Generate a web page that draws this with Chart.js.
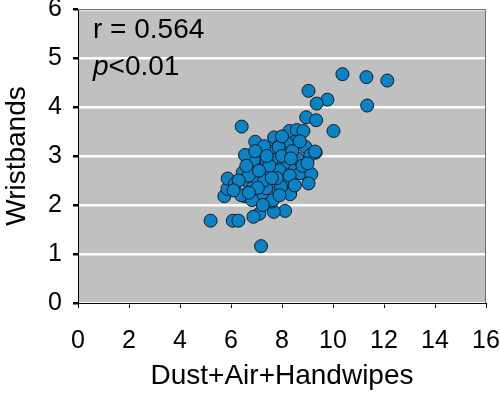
<!DOCTYPE html>
<html>
<head>
<meta charset="utf-8">
<script src="https://cdn.jsdelivr.net/npm/chart.js@4"></script>
<style>
  html, body { margin: 0; padding: 0; background: #fff; }
  #wrap { width: 500px; height: 393px; position: relative; }
</style>
</head>
<body>
<div id="wrap"><canvas id="chart" width="500" height="393"></canvas></div>
<script>
// Data
const xValues = [
  10.37, 11.31, 12.13, 11.34, 9.04, 9.78, 9.36, 8.95, 9.34, 10.02,
  8.29, 8.58, 8.84, 7.69, 6.95, 8.52, 8.19, 7.86, 8.91, 9.32,
  9.11, 7.54, 7.21, 8.12, 6.75, 7.14, 7.73, 8.45, 8.06, 6.95,
  7.47, 7.90, 8.71, 9.15, 9.04, 8.16, 7.67, 7.21, 8.32, 6.75,
  7.18, 8.12, 7.68, 7.11, 6.88, 7.60, 5.20, 6.07, 6.29, 5.74,
  5.86, 5.87, 6.15, 6.46, 6.55, 6.83, 6.88, 6.58, 6.89, 7.40,
  7.64, 7.38, 7.96, 6.42, 9.30, 7.87, 6.55, 7.00, 7.30, 6.70,
  7.80, 8.30, 8.00, 7.50, 6.60, 7.10, 8.60, 8.80, 6.30, 6.40,
  7.90, 8.50, 7.30, 8.40, 6.95, 7.60, 7.05, 8.70, 8.00, 7.40,
  6.70, 9.00, 7.25, 6.10, 8.35
];
const yValues = [
  4.67, 4.61, 4.54, 4.03, 4.33, 4.15, 4.07, 3.79, 3.73, 3.51,
  3.51, 3.53, 3.51, 3.38, 3.29, 3.29, 3.26, 3.19, 3.19, 3.07,
  3.02, 3.09, 3.09, 3.05, 2.93, 2.92, 2.92, 2.82, 2.84, 2.68,
  2.68, 2.71, 2.65, 2.63, 2.44, 2.46, 2.39, 2.20, 2.22, 2.41,
  1.16, 1.88, 1.86, 1.82, 1.76, 2.07, 1.68, 1.68, 1.68, 2.18,
  2.33, 2.54, 2.43, 2.66, 2.18, 2.10, 2.37, 3.00, 2.92, 2.88,
  2.10, 2.34, 2.37, 3.60, 3.09, 3.18, 3.02, 2.55, 2.50, 2.60,
  2.55, 2.60, 3.00, 2.80, 2.80, 2.70, 2.95, 2.80, 2.50, 2.20,
  2.20, 2.40, 3.20, 3.10, 3.10, 2.55, 2.35, 3.30, 3.40, 3.00,
  2.25, 2.85, 2.00, 2.30, 2.95
];
const xTicks = [0, 2, 4, 6, 8, 10, 12, 14, 16];
const yTicks = [0, 1, 2, 3, 4, 5, 6];
const xTitle = "Dust+Air+Handwipes";
const yTitle = "Wristbands";
const statR = "r = 0.564";
const statP = "<0.01";

const points = xValues.map((x, i) => ({ x: x, y: yValues[i] }));
const FONT = "'Liberation Sans', Arial, sans-serif";

// gray plot area, frame and the r / p note
const plotDecor = {
  id: "plotDecor",
  beforeDraw(chart) {
    const { ctx, chartArea: a } = chart;
    ctx.save();
    ctx.fillStyle = "#c0c0c0";
    ctx.fillRect(a.left, a.top, a.right - a.left, a.bottom - a.top);
    ctx.restore();
  },
  afterDraw(chart) {
    const { ctx, chartArea: a } = chart;
    ctx.save();
    ctx.strokeStyle = "#707070";
    ctx.lineWidth = 1;
    ctx.beginPath();
    ctx.moveTo(a.left, a.top + 0.5);
    ctx.lineTo(a.right - 0.5, a.top + 0.5);
    ctx.lineTo(a.right - 0.5, a.bottom);
    ctx.stroke();

    ctx.fillStyle = "#000";
    ctx.textBaseline = "alphabetic";
    ctx.textAlign = "left";
    ctx.font = "28px " + FONT;
    ctx.fillText(statR, a.left + 15, 38);
    ctx.font = "italic 28px " + FONT;
    ctx.fillText("p", a.left + 15, 75);
    const pw = ctx.measureText("p").width;
    ctx.font = "28px " + FONT;
    ctx.fillText(statP, a.left + 15 + pw, 75);
    ctx.restore();
  }
};

new Chart(document.getElementById("chart"), {
  type: "scatter",
  data: {
    datasets: [{
      data: points,
      backgroundColor: "#0a82c6",
      borderColor: "#1a1a1a",
      borderWidth: 1,
      pointRadius: 6.5,
      pointHoverRadius: 6.5
    }]
  },
  options: {
    responsive: false,
    animation: false,
    layout: { padding: { left: 0, right: 14, top: 9, bottom: 0 } },
    plugins: { legend: { display: false }, tooltip: { enabled: false } },
    scales: {
      x: {
        type: "linear",
        min: 0,
        max: 16,
        afterBuildTicks(axis) { axis.ticks = xTicks.map(v => ({ value: v })); },
        afterFit(axis) {
          axis.height = 90;
          axis.paddingLeft = 0;
          axis.paddingRight = 0;
        },
        grid: { drawOnChartArea: false, drawTicks: true, tickLength: 5, color: "#000", tickColor: "#000" },
        border: { color: "#000", width: 1 },
        ticks: { color: "#000", font: { family: FONT, size: 25 }, padding: 18, maxRotation: 0 },
        title: { display: true, text: xTitle, color: "#000", font: { family: FONT, size: 28 }, padding: { top: 4, bottom: 0 } }
      },
      y: {
        type: "linear",
        min: 0,
        max: 6,
        afterBuildTicks(axis) { axis.ticks = yTicks.map(v => ({ value: v })); },
        afterFit(axis) {
          axis.width = 78;
          axis.paddingTop = 0;
          axis.paddingBottom = 0;
        },
        grid: { color: "#fff", lineWidth: 2.5, tickColor: "#000", tickLength: 5, drawTicks: true },
        border: { color: "#000", width: 1 },
        ticks: { color: "#000", font: { family: FONT, size: 25 }, padding: 11 },
        title: { display: true, text: yTitle, color: "#000", font: { family: FONT, size: 28 }, padding: { top: 0, bottom: 4 } }
      }
    }
  },
  plugins: [plotDecor]
});
</script>
</body>
</html>
